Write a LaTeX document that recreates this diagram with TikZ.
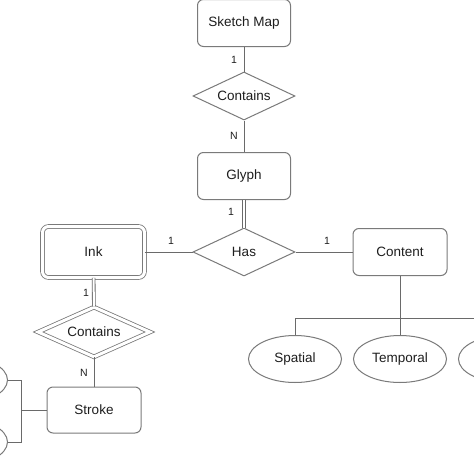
\documentclass[tikz,border=0pt]{standalone}
\usepackage{fontspec}
\setmainfont{Liberation Sans}
\usetikzlibrary{shapes.geometric,calc}
\definecolor{edgec}{HTML}{7A7A7A}
\definecolor{linec}{HTML}{6A6A6A}
\definecolor{txtc}{HTML}{1E1E1E}
\begin{document}
\begin{tikzpicture}[x=1pt,y=-1pt,
  every node/.style={text=txtc,font=\fontsize{13.5}{15}\selectfont},
  entity/.style={draw=edgec,line width=1pt,rounded corners=6pt,minimum width=93pt,minimum height=47pt,inner sep=0pt},
  wentity/.style={entity,double=white,double distance=3pt,line width=0.8pt,minimum width=102pt,minimum height=51pt},
  rel/.style={draw=edgec,line width=1pt,diamond,aspect=2.1,minimum width=102pt,minimum height=48pt,inner sep=0pt},
  wrel/.style={rel,double=white,double distance=3pt,line width=0.8pt,minimum width=112pt,minimum height=50pt},
  attr/.style={draw=edgec,line width=1pt,ellipse,minimum width=93pt,minimum height=47pt,inner sep=0pt},
  conn/.style={draw=linec,line width=1pt},
  wconn/.style={draw=linec,line width=0.8pt,double=white,double distance=2pt},
  card/.style={font=\fontsize{10.5}{12}\selectfont,inner sep=0pt}]
\useasboundingbox[fill=white] (0,0) rectangle (474,474);
% nodes
\node[entity] (sketch) at (244,23) {Sketch Map};
\node[rel] (cont1) at (244,96) {Contains};
\node[entity] (glyph) at (244,176) {Glyph};
\node[rel] (has) at (244,252) {Has};
\node[wentity] (ink) at (93.5,252) {Ink};
\node[entity,minimum width=94pt] (content) at (400,252) {Content};
\node[wrel] (cont2) at (94,332) {Contains};
\node[entity,minimum width=94pt,minimum height=46pt] (stroke) at (94,410) {Stroke};
\node[attr] (spatial) at (295,359) {Spatial};
\node[attr] (temporal) at (400,359) {Temporal};
\node[attr] (third) at (505,359) {};
\node[attr] (la) at (-39,380) {};
\node[attr] (lb) at (-39,442) {};
\coordinate (bus) at (0,318);
\coordinate (lbus) at (21,0);
% connectors
\draw[conn] (sketch) -- (cont1);
\draw[conn] (cont1) -- (glyph);
\draw[wconn] (glyph) -- (has);
\draw[conn] (ink) -- (has);
\draw[conn] (has) -- (content);
\draw[wconn] (ink) -- (cont2);
\draw[conn] (cont2) -- (stroke);
\draw[conn] (content.south) -- (content.south |- bus);
\draw[conn] (spatial.north) -- (spatial.north |- bus) -| (third.north);
\draw[conn] (temporal.north) -- (temporal.north |- bus);
\draw[conn] (stroke.west) -- (stroke.west -| lbus);
\draw[conn] (la.east) -| (lbus |- lb.east) -- (lb.east);
% cardinalities
\node[card] (c1) at (234,60) {1};
\node[card] (c2) at (234,136) {N};
\node[card] (c3) at (231,212) {1};
\node[card] (c4) at (171,241) {1};
\node[card] (c5) at (327,241) {1};
\node[card] (c6) at (86,293) {1};
\node[card] (c7) at (84,373) {N};
\end{tikzpicture}
\end{document}
